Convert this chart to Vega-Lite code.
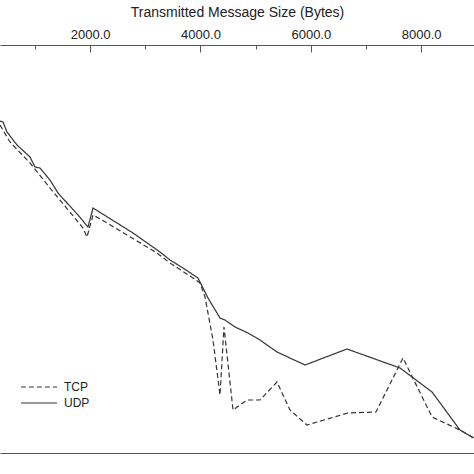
{
  "$schema": "https://vega.github.io/schema/vega-lite/v6.json",
  "width": 474,
  "height": 408,
  "autosize": {"type": "none"},
  "padding": {"left": 0, "top": 45, "right": 0, "bottom": 21},
  "config": {"view": {"stroke": null}, "font": "Liberation Sans"},
  "data": {
    "values": [
      {"protocol": "UDP", "size": 366, "value": 76},
      {"protocol": "UDP", "size": 420, "value": 77},
      {"protocol": "UDP", "size": 493, "value": 87},
      {"protocol": "UDP", "size": 674, "value": 100},
      {"protocol": "UDP", "size": 910, "value": 112},
      {"protocol": "UDP", "size": 1001, "value": 122},
      {"protocol": "UDP", "size": 1091, "value": 123},
      {"protocol": "UDP", "size": 1272, "value": 135},
      {"protocol": "UDP", "size": 1417, "value": 148},
      {"protocol": "UDP", "size": 1780, "value": 170},
      {"protocol": "UDP", "size": 1961, "value": 182},
      {"protocol": "UDP", "size": 2052, "value": 163},
      {"protocol": "UDP", "size": 2777, "value": 188},
      {"protocol": "UDP", "size": 3266, "value": 207},
      {"protocol": "UDP", "size": 3448, "value": 215},
      {"protocol": "UDP", "size": 3683, "value": 223},
      {"protocol": "UDP", "size": 3955, "value": 233},
      {"protocol": "UDP", "size": 4136, "value": 253},
      {"protocol": "UDP", "size": 4354, "value": 273},
      {"protocol": "UDP", "size": 4444, "value": 275},
      {"protocol": "UDP", "size": 4626, "value": 282},
      {"protocol": "UDP", "size": 4861, "value": 288},
      {"protocol": "UDP", "size": 5079, "value": 295},
      {"protocol": "UDP", "size": 5387, "value": 307},
      {"protocol": "UDP", "size": 5895, "value": 320},
      {"protocol": "UDP", "size": 6656, "value": 304},
      {"protocol": "UDP", "size": 7617, "value": 323},
      {"protocol": "UDP", "size": 8197, "value": 347},
      {"protocol": "UDP", "size": 8704, "value": 385},
      {"protocol": "UDP", "size": 8950, "value": 393},
      {"protocol": "TCP", "size": 366, "value": 80},
      {"protocol": "TCP", "size": 547, "value": 97},
      {"protocol": "TCP", "size": 910, "value": 118},
      {"protocol": "TCP", "size": 1272, "value": 143},
      {"protocol": "TCP", "size": 1871, "value": 183},
      {"protocol": "TCP", "size": 1943, "value": 192},
      {"protocol": "TCP", "size": 2052, "value": 170},
      {"protocol": "TCP", "size": 2306, "value": 178},
      {"protocol": "TCP", "size": 3212, "value": 208},
      {"protocol": "TCP", "size": 3448, "value": 218},
      {"protocol": "TCP", "size": 3864, "value": 233},
      {"protocol": "TCP", "size": 3991, "value": 238},
      {"protocol": "TCP", "size": 4082, "value": 252},
      {"protocol": "TCP", "size": 4227, "value": 295},
      {"protocol": "TCP", "size": 4354, "value": 350},
      {"protocol": "TCP", "size": 4426, "value": 282},
      {"protocol": "TCP", "size": 4590, "value": 365},
      {"protocol": "TCP", "size": 4843, "value": 355},
      {"protocol": "TCP", "size": 5079, "value": 355},
      {"protocol": "TCP", "size": 5387, "value": 337},
      {"protocol": "TCP", "size": 5622, "value": 365},
      {"protocol": "TCP", "size": 5931, "value": 380},
      {"protocol": "TCP", "size": 6674, "value": 368},
      {"protocol": "TCP", "size": 7181, "value": 367},
      {"protocol": "TCP", "size": 7671, "value": 313},
      {"protocol": "TCP", "size": 8197, "value": 372},
      {"protocol": "TCP", "size": 8704, "value": 385},
      {"protocol": "TCP", "size": 8950, "value": 393}
    ]
  },
  "layer": [
    {
      "transform": [{"filter": "datum.protocol === 'TCP'"}],
      "mark": {"type": "line", "color": "#333", "strokeWidth": 1.2},
      "encoding": {
        "x": {
          "field": "size", "type": "quantitative",
          "scale": {"domain": [366, 8958], "nice": false, "zero": false},
          "axis": {
            "orient": "top",
            "values": [1000, 2000, 3000, 4000, 5000, 6000, 7000, 8000],
            "labelExpr": "datum.value % 2000 === 0 ? format(datum.value, '.1f') : ''",
            "title": "Transmitted Message Size (Bytes)",
            "titleFontSize": 14, "titleFontWeight": "normal", "titleColor": "#222",
            "titlePadding": 6,
            "labelFontSize": 13, "labelColor": "#222", "labelPadding": 11,
            "labelOverlap": false, "labelFlush": false, "labelBound": false,
            "tickSize": {"condition": {"test": "datum.value % 2000 === 0", "value": -7}, "value": -4},
            "tickColor": "#555", "tickWidth": 1,
            "domainColor": "#555", "domainWidth": 1,
            "grid": false
          }
        },
        "y": {
          "field": "value", "type": "quantitative",
          "scale": {"domain": [0, 408], "nice": false, "zero": false, "reverse": true},
          "axis": null
        },
        "strokeDash": {
          "field": "protocol", "type": "nominal",
          "scale": {"domain": ["TCP", "UDP"], "range": [[5, 3], [1, 0]]},
          "legend": {
            "orient": "none", "legendX": 20, "legendY": 335,
            "title": null, "symbolType": "stroke", "symbolSize": 1300,
            "symbolStrokeColor": "#333", "symbolStrokeWidth": 1.2,
            "labelFontSize": 12, "labelColor": "#222", "labelOffset": 6,
            "clipHeight": 14, "rowPadding": 2,
            "padding": 0
          }
        }
      }
    },
    {
      "transform": [{"filter": "datum.protocol === 'UDP'"}],
      "mark": {"type": "line", "color": "#333", "strokeWidth": 1.2},
      "encoding": {
        "x": {
          "field": "size", "type": "quantitative",
          "axis": {"orient": "bottom", "labels": false, "ticks": false, "title": null, "domainColor": "#555", "domainWidth": 1, "grid": false}
        },
        "y": {"field": "value", "type": "quantitative"},
        "strokeDash": {"field": "protocol", "type": "nominal"}
      }
    }
  ],
  "resolve": {"axis": {"x": "independent"}}
}
